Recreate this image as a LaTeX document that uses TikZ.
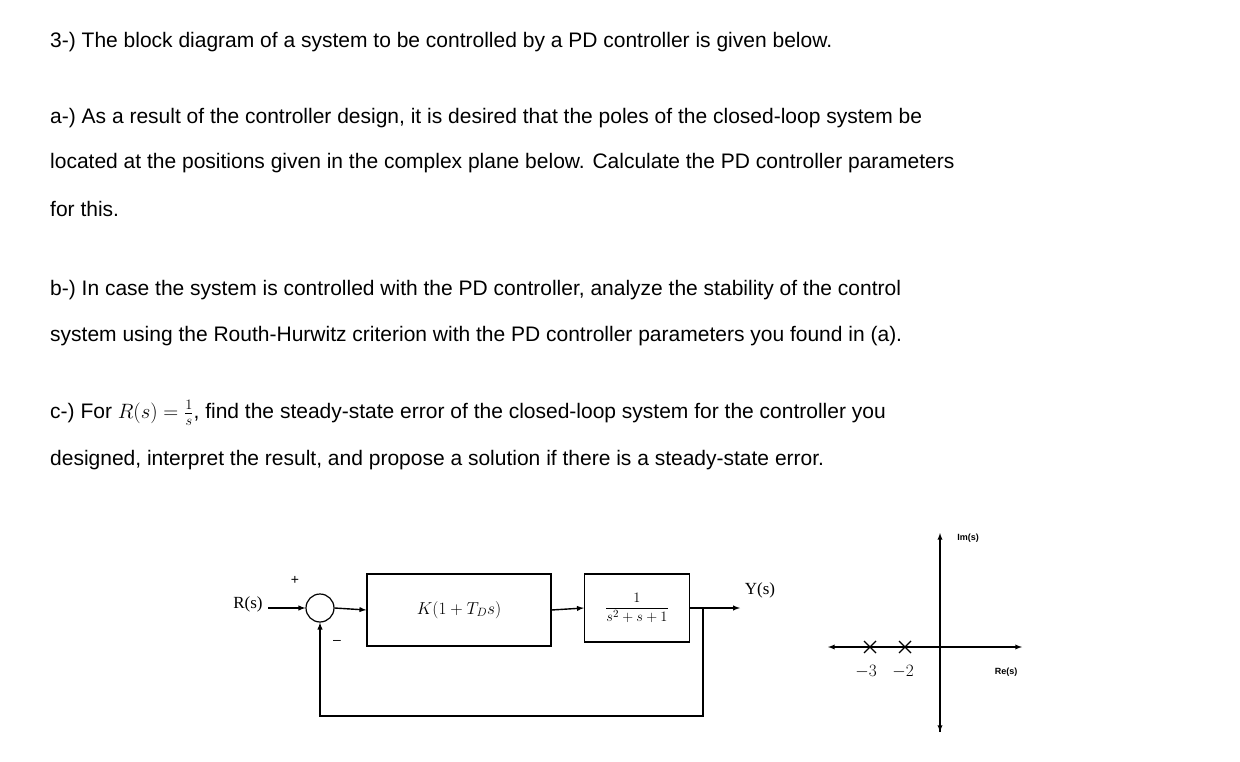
\documentclass[tikz,border=0pt]{standalone}
\usepackage{fontspec}
\setmainfont{Liberation Sans}
\newfontfamily\serifd{Liberation Serif}
\begin{document}
\begin{tikzpicture}[x=1pt,y=-1pt,
 txt/.style={anchor=west,inner sep=0pt,font=\fontsize{21}{21}\selectfont},
 blk/.style={draw,line width=1.2pt,inner sep=0pt},
 ln/.style={line width=1.4pt},
 ar/.style={line width=1.4pt,-latex},
 small/.style={inner sep=0pt,font=\fontsize{9}{9}\selectfont\bfseries}]
\useasboundingbox (0,0) rectangle (1240,762);
\node[txt] (t1) at (50,42) {3-) The block diagram of a system to be controlled by a PD controller is given below.};
\node[txt] (t2) at (50,118) {a-) As a result of the controller design, it is desired that the poles of the closed-loop system be};
\node[txt] (t3) at (50,163) {located at the positions given in the complex plane below. Calculate the PD controller parameters};
\node[txt] (t4) at (50,209) {for this.};
\node[txt] (t5) at (50,290) {b-) In case the system is controlled with the PD controller, analyze the stability of the control};
\node[txt] (t6) at (50,336) {system using the Routh-Hurwitz criterion with the PD controller parameters you found in (a).};
\node[txt] (t7) at (50,413) {c-) For $R(s)=\frac{1}{s}$, find the steady-state error of the closed-loop system for the controller you};
\node[txt] (t8) at (50,460) {designed, interpret the result, and propose a solution if there is a steady-state error.};
% block diagram
\node[inner sep=0pt,font=\serifd\fontsize{17}{17}\selectfont] (R) at (248,604) {R(s)};
\node[draw,circle,line width=1.2pt,minimum size=28pt,inner sep=0pt] (S) at (320,608) {};
\node[blk,minimum width=184pt,minimum height=72pt] (C) at (459,610) {\fontsize{18}{18}\selectfont$K(1+T_D s)$};
\node[blk,minimum width=105pt,minimum height=68pt] (P) at (637,608) {\fontsize{15}{15}\selectfont$\displaystyle\frac{1}{s^2+s+1}$};
\node[inner sep=0pt,font=\serifd\fontsize{17}{17}\selectfont] (Y) at (760,590) {Y(s)};
\node[inner sep=0pt,font=\fontsize{14}{14}\selectfont] (pl) at (295,580) {+};
\node[inner sep=0pt,font=\fontsize{14}{14}\selectfont] (mi) at (337,642) {--};
\coordinate (ro) at (268,608);
\coordinate (yo) at (740,608);
\coordinate (br) at (703,608);
\draw[ar] (ro) -- (S.west);
\draw[ar] (S.east) -- (C.west);
\draw[ar] (C.east) -- (P.west);
\draw[ar] (P.east) -- (yo);
\draw[ar] (br) -- (703,716) -- (320,716) -- (S.south);
% pole plot
\coordinate (va) at (940,533);
\coordinate (vb) at (940,732);
\coordinate (ha) at (828,647);
\coordinate (hb) at (1022,647);
\draw[line width=1.3pt,-latex] (vb) -- (va);
\draw[line width=1.3pt,-latex] (940,647) -- (vb);
\draw[line width=1.3pt,latex-latex] (ha) -- (hb);
\node[small] (im) at (968,538) {Im(s)};
\node[small] (re) at (1006,672) {Re(s)};
\foreach \x/\n in {870/p3,905/p2}{
 \draw[line width=1.1pt] (\x-6,641) -- (\x+6,653) (\x-6,653) -- (\x+6,641);}
\node[inner sep=0pt,font=\serifd\fontsize{17}{17}\selectfont] (l3) at (866,672) {$-3$};
\node[inner sep=0pt,font=\serifd\fontsize{17}{17}\selectfont] (l2) at (903,672) {$-2$};
\end{tikzpicture}
\end{document}
